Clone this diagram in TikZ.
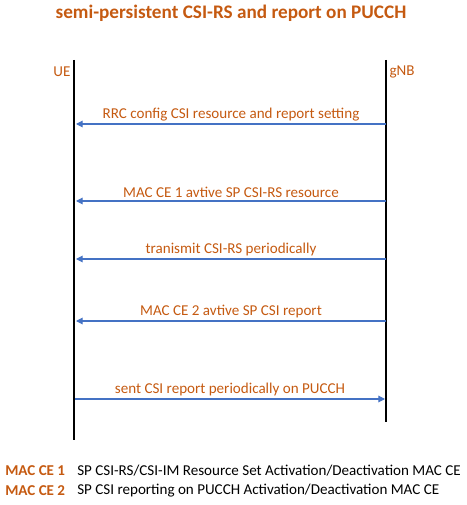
\documentclass[tikz,border=0pt]{standalone}
\usepackage{fontspec}
\setmainfont{Carlito}
\usetikzlibrary{arrows.meta}
\definecolor{msgorange}{HTML}{C55A11}
\definecolor{msgblue}{HTML}{4472C4}
\tikzset{
  lifeline/.style={line width=1.1pt, black},
  msgline/.style={msgblue, line width=0.8pt, ->},
  msglabel/.style={above=1pt, text=msgorange, inner sep=1pt},
  party/.style={text=msgorange, inner sep=1pt},
  legendkey/.style={anchor=west, inner sep=0pt, text=msgorange, font=\fontsize{11.3}{13}\selectfont\bfseries},
  legendtext/.style={anchor=west, inner sep=0pt}
}
\begin{document}
\begin{tikzpicture}[x=0.75pt, y=-0.75pt, font=\fontsize{11.3}{13}\selectfont, line join=round,
			>={Triangle[length=5pt,width=5pt]}]
			\useasboundingbox (0,0) rectangle (466,505);
			\path
			(74,60) coordinate (UEtop)
			(74,440) coordinate (UEbot)
			(386,60) coordinate (gNBtop)
			(386,422) coordinate (gNBbot)
			;
			% title
			\node[text=msgorange, font=\fontsize{14.4}{17}\selectfont\bfseries] (title) at (231,13)
			{semi-persistent CSI-RS and report on PUCCH};
			% lifelines
			\draw[lifeline] (UEtop) -- (UEbot);
			\draw[lifeline] (gNBtop) -- (gNBbot);
			\node[party, anchor=east] (UE) at (72,72) {UE};
			\node[party, anchor=west] (gNB) at (388,72) {gNB};
			% messages gNB -> UE
			\foreach \n/\y/\txt in {1/124/RRC config CSI resource and report setting,
				2/201/MAC CE 1 avtive SP CSI-RS resource,
				3/259/tranismit CSI-RS periodically,
				4/321/MAC CE 2 avtive SP CSI report}
			{
				\path (76,\y) coordinate (ue\n) (386,\y) coordinate (gnb\n);
				\draw[msgline] (gnb\n) -- node[msglabel] (m\n) {\txt} (ue\n);
			}
			% message UE -> gNB
			\path (75,399) coordinate (ue5) (385,399) coordinate (gnb5);
			\draw[msgline] (ue5) -- node[msglabel] (m5) {sent CSI report periodically on PUCCH} (gnb5);
			% legend
			\node[legendkey] (ce1) at (5,471) {MAC CE 1};
			\node[legendtext] (ce1txt) at (77,471) {SP CSI-RS/CSI-IM Resource Set Activation/Deactivation MAC CE};
			\node[legendkey] (ce2) at (5,491) {MAC CE 2};
			\node[legendtext] (ce2txt) at (77,491) {SP CSI reporting on PUCCH Activation/Deactivation MAC CE};
	\end{tikzpicture}
\end{document}
